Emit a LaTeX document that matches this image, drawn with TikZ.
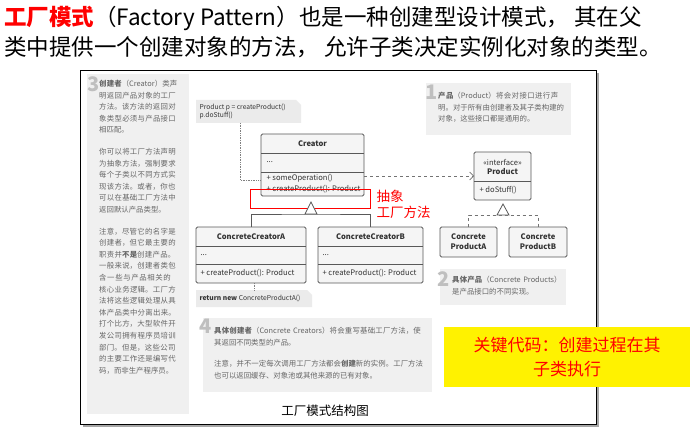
\documentclass[tikz,border=0pt]{standalone}
\usepackage{fontspec}
\setmainfont{Noto Sans CJK SC}
\XeTeXlinebreaklocale "zh"
\XeTeXlinebreakskip=0pt plus 1pt
\usetikzlibrary{arrows.meta}
\tikzset{
  umlbox/.style={draw=black!65, line width=0.8pt, rounded corners=1.5pt},
  panel/.style={fill=black!6, draw=none},
  small/.style={font=\fontsize{7.4}{11.6}\selectfont, text=black!60, align=left, anchor=north west, inner sep=0pt},
  uml/.style={font=\fontsize{7.6}{9}\selectfont, text=black!80},
  bignum/.style={font=\fontsize{20}{20}\selectfont\bfseries, text=black!25, anchor=north west, inner sep=1pt},
  dotline/.style={black!50, densely dotted, line width=0.7pt},
  dashline/.style={black!55, dashed, line width=0.7pt}
}
\begin{document}
\begin{tikzpicture}[x=1pt,y=-1pt]
  \useasboundingbox (0,0) rectangle (696,441);
  % title
  \node[anchor=west, inner sep=0pt, font=\fontsize{22.5}{26}\selectfont] (title1) at (4,18)
    {\textcolor{red}{\bfseries 工厂模式}（Factory Pattern）也是一种创建型设计模式， 其在父};
  \node[anchor=west, inner sep=0pt, font=\fontsize{22.5}{26}\selectfont] (title2) at (4,47)
    {类中提供一个创建对象的方法， 允许子类决定实例化对象的类型。};
  % frame
  \fill[black!35] (83,73) rectangle (599,427);
  \draw[fill=white, line width=0.8pt] (80,70) rectangle (596,424);
  % panel 3
  \fill[panel] (87,74) rectangle (189,414);
  \node[bignum] (n3) at (86,76) {3};
  \node[small, text width=81pt] (t3) at (99,80) {\textbf{创建者}（Creator）类声明返回产品对象的工厂方法。该方法的返回对象类型必须与产品接口相匹配。\\[10pt]
  你可以将工厂方法声明为抽象方法，强制要求每个子类以不同方式实现该方法。或者，你也可以在基础工厂方法中返回默认产品类型。\\[10pt]
  注意，尽管它的名字是创建者，但它最主要的职责并\textbf{不是}创建产品。一般来说，创建者类包含一些与产品相关的核心业务逻辑。工厂方法将这些逻辑处理从具体产品类中分离出来。打个比方，大型软件开发公司拥有程序员培训部门。但是，这些公司的主要工作还是编写代码，而非生产程序员。};
  % note creator
  \fill[black!8] (196,100) -- (296,100) -- (301,105) -- (301,123) -- (196,123) -- cycle;
  \node[uml, anchor=north west, align=left, font=\fontsize{6.7}{8}\selectfont] (note1) at (196,100) {Product p = createProduct()\\p.doStuff()};
  % Creator
  \draw[umlbox, fill=black!4] (261,134) rectangle (364,196);
  \draw[black!65, line width=0.8pt] (261,153) -- (364,153) (261,172) -- (364,172);
  \node[uml] (creator) at (312.5,143.5) {\bfseries\itshape Creator};
  \node[uml, anchor=west] (cdots) at (263,162) {...};
  \node[uml, anchor=west] (cop1) at (263,178) {+ someOperation()};
  \node[uml, anchor=west] (cop2) at (263,189.5) {\itshape + createProduct(): Product};
  \coordinate (cright) at (364,176);
  \coordinate (cleft) at (261,180);
  \draw[dotline] (240,123) |- (cleft);
  % red mark
  \draw[red, line width=0.8pt] (250,189) rectangle (370,208);
  \node[anchor=north west, text=red, align=left, font=\fontsize{13.5}{16}\selectfont] (abs) at (373,187) {抽象\\工厂方法};
  % concrete creators
  \foreach \nm/\xa/\xb/\lab in {ccA/196/306/ConcreteCreatorA, ccB/318/423/ConcreteCreatorB}{
    \draw[umlbox, fill=black!4] (\xa,227) rectangle (\xb,283);
    \draw[black!65, line width=0.8pt] (\xa,246) -- (\xb,246) (\xa,264) -- (\xb,264);
    \node[uml] (\nm) at ({(\xa+\xb)/2},236.5) {\bfseries \lab};
    \node[uml, anchor=west] at ({\xa+1},255) {...};
    \node[uml, anchor=west] at ({\xa+1},273.5) {+ createProduct(): Product};
  }
  \draw[black!65, line width=0.8pt] (251,227) |- (311,214) -| (370,227);
  \draw[black!65, line width=0.8pt, fill=white] (311,214) -- (305,214) -- (311,202) -- (317,214) -- cycle;
  % note A
  \fill[black!8] (196,290) -- (307,290) -- (312,295) -- (312,307) -- (196,307) -- cycle;
  \node[uml, anchor=west, font=\fontsize{6.7}{8}\selectfont] (note2) at (196,298.5) {\bfseries return new \mdseries ConcreteProductA()};
  \draw[dotline] (254,283) -- (254,290);
  % panel 1
  \fill[panel] (426,83) rectangle (571,135);
  \node[bignum] (n1) at (424,84) {1};
  \node[small, text width=126pt] (t1) at (438,92) {\textbf{产品}（Product）将会对接口进行声明。对于所有由创建者及其子类构建的对象，这些接口都是通用的。};
  % Product
  \draw[umlbox, fill=black!4] (474,152) rectangle (531,200);
  \draw[black!65, line width=0.8pt] (474,181) -- (531,181);
  \node[uml, align=center] (product) at (502.5,166.5) {«interface»\\\bfseries Product};
  \node[uml, anchor=west] (pops) at (476,190.5) {+ doStuff()};
  \draw[dashline, -{Straight Barb[length=4pt]}] (cright) -- (474,176);
  \foreach \nm/\xa/\xb/\lt/\lb in {cpA/440/497/Concrete/ProductA, cpB/509/567/Concrete/ProductB}{
    \draw[umlbox, fill=black!4] (\xa,227) rectangle (\xb,257);
    \node[uml, align=center, font=\fontsize{7.6}{10}\selectfont] (\nm) at ({(\xa+\xb)/2},242) {\bfseries \lt\\\bfseries \lb};
  }
  \draw[dashline] (468.5,227) |- (503,215) -| (538,227);
  \draw[black!65, line width=0.8pt, fill=white] (503,215) -- (497,215) -- (503,204) -- (509,215) -- cycle;
  % panel 2
  \fill[panel] (440,269) rectangle (566,305);
  \node[bignum] (n2) at (436,270) {2};
  \node[small, text width=112pt] (t2) at (452,276) {\textbf{具体产品}（Concrete Products）是产品接口的不同实现。};
  % panel 4
  \fill[panel] (203,318) rectangle (432,392);
  \node[bignum] (n4) at (198,318) {4};
  \node[small, text width=210pt] (t4) at (214,327) {\textbf{具体创建者}（Concrete Creators）将会重写基础工厂方法，使其返回不同类型的产品。\\[10pt]
  注意，并不一定每次调用工厂方法都会\textbf{创建}新的实例。工厂方法也可以返回缓存、对象池或其他来源的已有对象。};
  % caption
  \node[font=\fontsize{12.5}{14}\selectfont] (caption) at (325,411) {工厂模式结构图};
  % key box
  \node[fill=yellow, minimum width=246pt, minimum height=60pt, align=center, text=red,
        font=\fontsize{17}{24}\selectfont] (key) at (567,357) {关键代码：创建过程在其\\子类执行};
\end{tikzpicture}
\end{document}
